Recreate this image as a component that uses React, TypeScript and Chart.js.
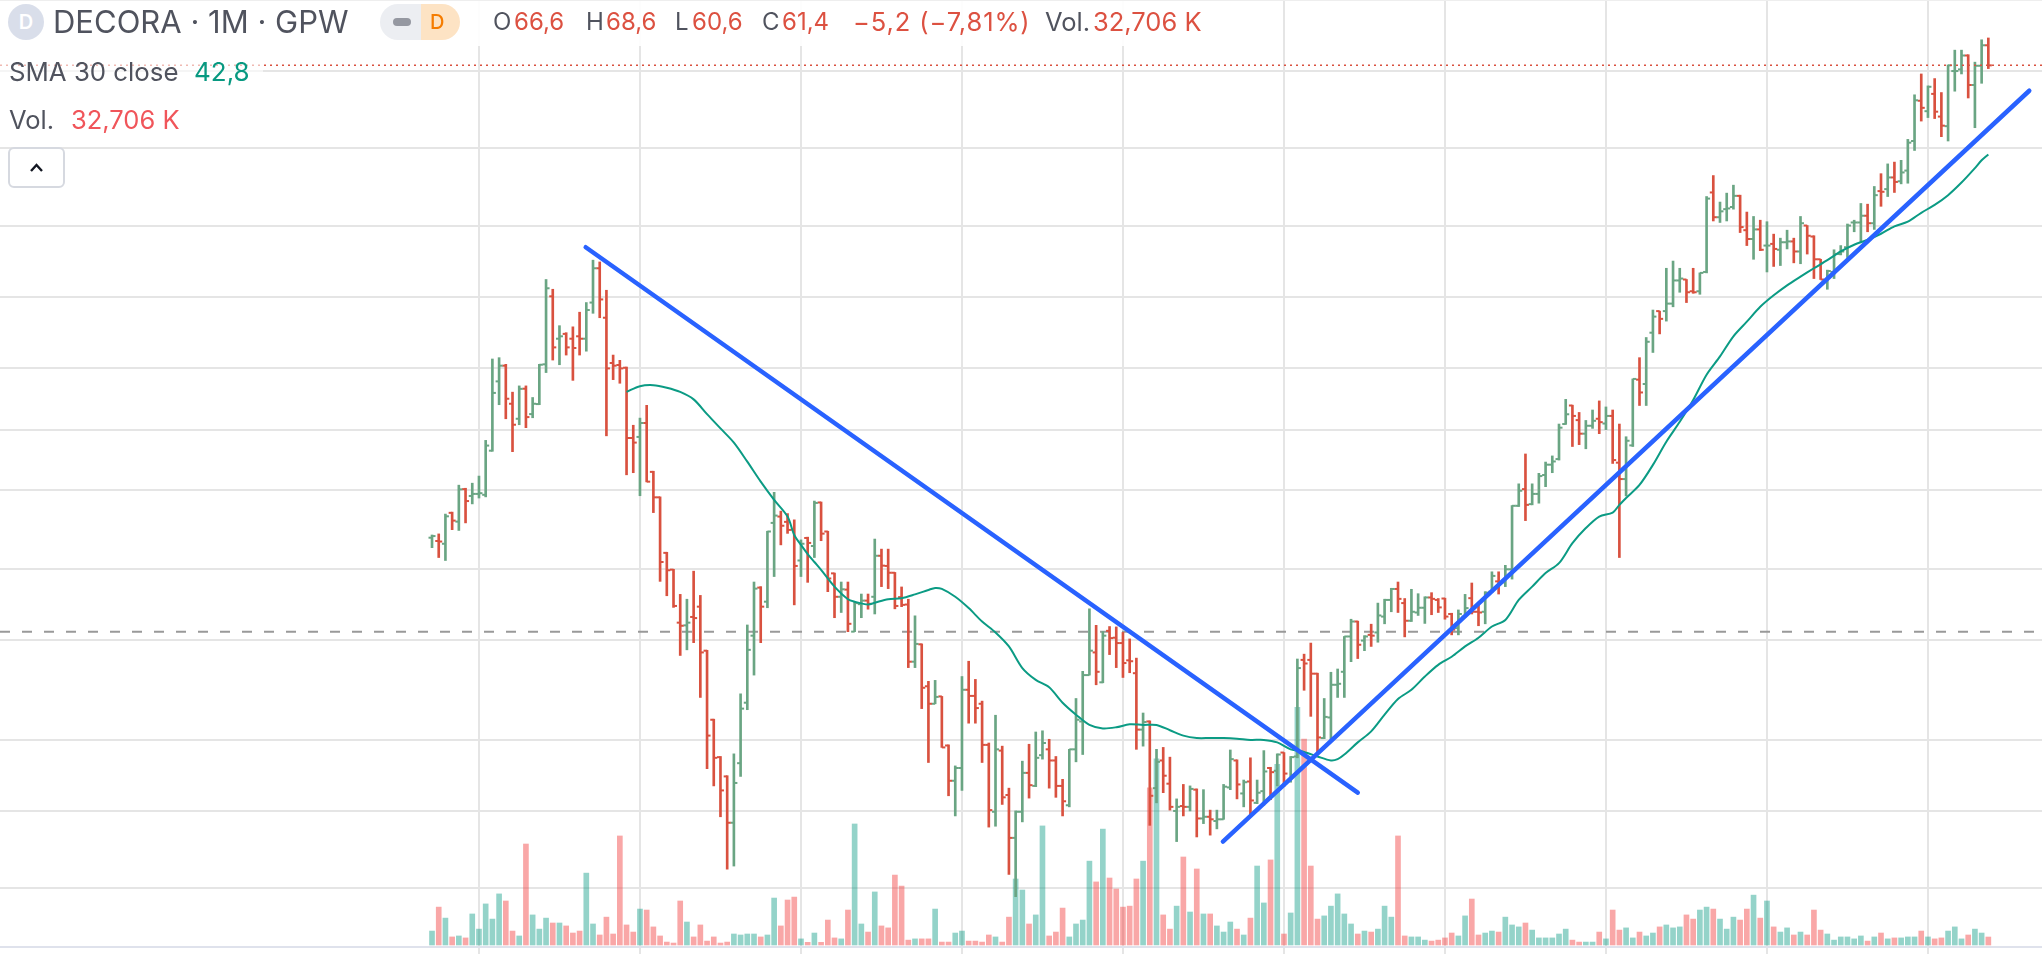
import { useEffect, useRef } from "react";
import { Chart, registerables } from "chart.js";

Chart.register(...registerables);

const opens = [
  9.07,8.95,8.85,10.03,9.68,11.04,10.74,10.83,10.79,12.9,
  17.08,18.2,15.6,14.68,16.58,14.96,15.58,18.3,24.1,20.3,
  20.7,20.3,20.5,20.3,23.5,27,22.1,18.4,18.25,18.05,
  13.58,13.64,14.43,11.84,10.68,8.53,7.97,6.43,6.36,6.58,
  6.86,5.74,4.34,3.73,3.45,2.86,3.64,4.65,6.1,7.41,
  7,9.63,9.88,9.67,9.37,8.27,9.06,8.77,10.46,9.3,
  7.85,7.14,7.35,6.2,6.93,7.03,7.14,8.43,8.09,7.87,
  7.13,6.92,5.49,5.89,4.97,4.63,4.77,3.91,3.39,3.57,
  4.9,4.78,4.63,3.92,2.99,3.83,3.2,2.69,2.99,3.5,
  3.32,3.76,3.85,3.68,3.32,3.07,3.85,4.31,5.2,5.7,
  5.05,6.22,6.05,5.92,5.52,5.24,4.17,4.31,3.29,3.68,
  3.35,3,3.06,3.05,3.27,2.91,2.93,2.88,2.9,3.3,
  3.68,3.22,3.38,3.1,3.25,3.57,3.53,3.8,3.39,3.74,
  5.53,5.53,5.23,4.03,4.38,5,5.27,6.08,6.46,5.98,
  6.12,6.18,6.59,7.05,7.37,6.96,6.48,6.7,6.83,7.12,
  7.05,7.09,6.66,6.29,6.59,7.1,6.72,6.72,7.29,7.6,
  7.57,7.98,10.32,11.04,10.39,10.83,11.69,12.19,12.47,14.37,
  15.49,14.6,13.82,14.27,14.68,14.4,14.85,12.29,11.5,13.18,
  17.2,16.9,20.8,22.7,22.7,23.4,25.7,25.8,24.6,24.6,
  26.6,36.7,33.2,34.3,34.6,36.2,31.5,30.4,31.6,29.6,
  29.8,29.1,30,30.1,28.9,32.1,30.7,28,25.7,26.6,
  28.6,29.4,32.5,32.5,33.4,32.4,36.9,37.2,39,38.4,
  40.1,45.2,53.2,51,54.7,49.9,48,60,60.4,63.9,
  56.7,61.3,66.6,
];

const highs = [
  9.17,9.21,9.98,10.06,11.22,11.08,11.31,11.64,13.45,18.7,
  18.8,18.3,16.35,16.77,16.77,16,18.3,25.8,24.8,21.4,
  20.8,21.3,22.6,23.5,27.9,27.7,24.7,19,18.6,18.1,
  14.3,14.72,15.5,11.87,10.7,8.55,7.98,7.21,7.07,7.92,
  7.18,5.75,4.35,3.74,3.46,3.78,4.82,6.37,7.58,7.44,
  9.31,10.9,10.1,10,9.75,8.99,9.09,10.52,10.48,9.31,
  7.86,7.58,7.58,7,7.22,7.22,9.02,8.66,8.66,7.88,
  7.43,7.07,6.61,5.9,5.07,5.09,4.77,3.92,3.6,5.17,
  5.5,5.11,4.68,3.95,4.42,3.9,3.29,3,3.67,3.93,
  4.13,4.15,4.01,3.74,3.41,3.85,4.73,5.28,6.8,6.36,
  6.2,6.33,6.32,6.18,6.02,5.57,4.46,4.32,3.85,3.88,
  3.73,3.15,3.34,3.32,3.28,3.27,3.01,3.01,3.34,3.84,
  3.69,3.4,3.72,3.4,3.83,3.58,3.78,3.8,3.74,5.55,
  5.66,5.92,5.24,4.73,5.26,5.33,6.08,6.52,6.47,6.1,
  6.39,6.96,7.07,7.39,7.58,7.09,7.36,7.23,7.14,7.26,
  7.09,7.1,6.68,6.77,7.21,7.55,6.96,7.29,7.9,7.9,
  8.11,10.33,11.28,12.73,11.28,11.77,12.32,12.63,14.37,15.88,
  15.51,15.06,14.58,15.21,15.78,15.4,15.21,14.37,13.65,17.25,
  18.8,20.4,22.8,22.7,27,27.8,27,25.8,27,26.5,
  36.1,39.3,35.3,36.6,37.8,36.3,33.9,33.3,32.8,32.6,
  31,30.5,31.5,30.5,33.3,32.1,30.8,28,26.8,29.1,
  29.6,32.3,32.8,35.1,35,37.6,39.6,41.2,41.5,41.8,
  45.5,54.5,59.3,56.5,58.2,55,61.5,65.3,65.3,64.1,
  62.2,68.1,68.6,
];

const lows = [
  8.71,8.37,8.27,9.37,9.34,9.63,10.4,10.65,10.7,12.87,
  15.54,14.68,12.85,14.33,14.16,14.74,15.54,17.7,18.62,18.27,
  19,17.15,19,19.3,22.5,22.1,13.7,17.2,16.95,11.7,
  11.8,10.75,11.37,10.04,7.6,7.17,6.84,5.63,5.76,5.93,
  4.75,3.56,3.32,2.93,2.37,2.4,3.45,4.52,5.2,5.93,
  6.83,7.75,8.81,9.23,6.91,7.75,7.57,8.37,8.96,7.29,
  6.56,6.7,6.2,6.2,6.56,6.79,6.66,7.44,7.38,6.8,
  6.86,5.36,5.36,4.54,3.65,4.63,3.88,3.19,2.94,3.26,
  4.28,4.28,3.65,2.81,2.82,3.08,2.32,2.12,2.87,3.16,
  3.31,3.7,3.29,3.17,2.94,3.05,3.66,3.77,5.2,5,
  5.04,5.65,5.36,5.15,5.25,3.85,3.9,2.83,3.1,3.23,
  3.01,2.65,2.94,3,2.7,2.85,2.72,2.79,2.9,3.27,
  3.15,3.05,2.94,3.09,3.07,3.14,3.32,3.31,3.37,3.72,
  4.89,4.4,3.79,4.02,4,4.75,4.75,5.49,5.56,5.74,
  5.84,5.94,6.4,6.72,6.7,6.07,6.46,6.62,6.41,6.64,
  6.7,6.52,6.12,6.12,6.57,6.66,6.35,6.4,7.26,7.22,
  7.44,7.67,10.29,9.72,10.36,10.43,11.15,11.8,12.42,14.35,
  13.12,13.22,13,14.12,13.82,14.05,12.25,8.37,10.74,13.12,
  15.49,15.49,19.2,20.7,21.8,23.1,24.5,23.5,24.4,24.3,
  26.5,32.7,32.5,32.7,34.3,31.2,29.6,28,29,26.6,
  27.2,27.3,29.2,27.6,27.5,28.6,25.9,25.8,24.8,25.9,
  28.5,28.2,31.3,30,31.3,31.6,34.7,36.1,36.7,38,
  38.1,43.5,49,49.7,49.5,46,45.2,55.3,59.3,53.8,
  47.7,57.1,60.6,
];

const closes = [
  9.13,8.93,9.89,9.72,11.03,10.52,10.83,10.86,13.17,16.3,
  18.2,15.92,14.33,16.57,14.78,15.6,18.27,24.9,19.6,20.5,
  19.6,19.55,20.3,22.8,27,23.8,18,18.2,18,13.58,
  13.33,14.43,11.38,10.68,8.22,7.95,6.88,6.35,6.43,6.55,
  5.7,4.07,3.72,3.26,2.86,3.36,4.54,5.76,7.38,6.86,
  9.3,9.92,9.52,9.36,8.09,8.85,8.88,10.44,9.22,7.69,
  7.14,7.36,6.4,6.96,7.03,6.94,8.43,8.1,7.87,6.88,
  6.91,5.49,5.9,4.94,4.63,4.76,3.88,3.39,3.57,4.9,
  4.78,4.55,3.92,3.01,3.85,3.17,2.69,2.99,3.5,3.33,
  3.72,3.95,3.68,3.32,3.12,3.85,4.34,5.2,5.74,5.27,
  6.1,6.04,5.92,5.46,5.5,4.17,4.3,3.19,3.66,3.46,
  3.05,3.05,3.05,3.28,2.91,2.93,2.9,2.9,3.31,3.7,
  3.34,3.37,3.13,3.23,3.52,3.51,3.77,3.49,3.73,5.35,
  5.45,5.23,4.04,4.39,5,5.02,6.08,6.46,5.88,6.08,
  6.1,6.62,7.05,7.37,7.08,6.48,6.72,6.83,7.12,7.08,
  6.84,6.59,6.25,6.66,6.82,6.72,6.7,7.26,7.77,7.55,
  7.98,10.32,10.97,10.36,10.83,11.64,12.19,12.35,14.16,14.95,
  14.85,13.82,14.27,14.56,14.48,14.85,12.42,11.5,13.43,17.25,
  16.33,20.05,22.2,22,23.4,25.7,25.9,24.5,24.5,26.5,
  35.8,33.2,34,34.4,36.2,31.9,30.4,31.6,29.1,29.6,
  29.2,30,30.1,28.9,32.4,30.8,28,25.8,26.7,28.6,
  28.9,32.1,32.5,33.4,32.4,36.3,36.8,39,38.3,39.8,
  44.9,53.3,51.7,56.3,50.9,48.1,61.4,60,63.9,56.7,
  61.3,66.6,61.4,
];

// volume in thousands
const volumes = [
  57,155,110,33,37,29,127,65,168,106,
  209,180,57,37,413,123,65,110,90,90,
  78,49,57,294,86,41,114,45,446,82,
  53,147,143,74,37,12,8,180,94,33,
  82,16,33,8,12,45,41,45,45,33,
  41,192,78,184,196,25,11,49,11,102,
  29,25,143,495,86,53,217,78,70,286,
  241,20,25,25,25,147,12,12,49,57,
  16,16,12,41,33,12,114,270,225,86,
  123,487,37,53,151,33,86,102,343,258,
  474,274,229,155,159,270,343,643,761,123,
  65,159,360,135,311,127,127,78,53,94,
  65,41,110,323,172,348,739,45,131,972,
  842,323,106,119,159,209,127,86,45,57,
  53,65,159,114,446,37,33,33,20,16,
  20,29,49,37,119,188,41,49,57,53,
  114,82,74,90,61,29,29,29,45,65,
  20,12,12,12,53,25,143,61,70,29,
  53,37,49,74,82,70,74,123,106,143,
  155,147,106,65,114,102,147,204,110,180,
  74,53,70,41,53,41,143,61,45,20,
  33,33,25,37,16,33,49,25,29,29,
  33,33,57,33,25,29,57,74,25,41,
  65,49,32.7,
];

const smaIndex = [
  29,31,33,35,37,39,41,43,45,47,49,51,53,54,55,56,57,58,60,62,63,65,66,68,70,72,74,75,76,78,
  80,82,84,86,88,90,92,94,96,98,100,102,104,106,108,110,112,114,116,118,120,122,124,126,128,
  130,132,134,135,136,138,140,142,144,146,148,150,152,154,156,158,160,162,164,166,168,170,172,
  174,176,177,178,180,182,184,186,188,190,192,194,196,198,200,202,204,206,208,210,212,214,216,
  218,220,222,224,226,228,230,231,232,
];

const smaValues = [
  16.37,16.75,16.82,16.65,16.37,15.88,14.96,14.12,13.33,12.34,11.38,10.57,9.88,9.17,8.81,8.49,8.22,7.96,7.44,7.07,7,6.92,6.97,7.07,7.1,7.21,7.34,7.4,7.37,7.14,
  6.82,6.46,6.18,5.84,5.35,5.1,4.95,4.65,4.43,4.25,4.19,4.21,4.26,4.25,4.25,4.16,4.07,4.03,4.03,4.03,4.02,4,4,3.96,3.85,
  3.81,3.74,3.68,3.7,3.77,3.96,4.14,4.43,4.72,4.9,5.17,5.42,5.6,5.84,6.05,6.33,6.5,7.05,7.44,7.86,8.18,8.87,9.43,
  9.88,10.04,10.36,10.65,11.23,12.18,13.38,14.5,15.84,17.55,18.9,20.5,21.75,23.1,24.2,25.2,26.1,27,27.9,28.9,29.7,30.3,31.05,
  32,32.6,33.8,34.9,36.3,38.2,40.5,41.8,42.8,
];

const priceTicks = [60, 44, 32, 24, 18, 14, 11, 8, 6, 4, 3, 2.2];
const timeTicks = [7, 31, 55, 79, 103, 127, 151, 175, 199, 223];

const downTrend = [
  { x: 22.91, y: 29.4 },
  { x: 138, y: 3.23 },
];
const upTrend = [
  { x: 117.9, y: 2.65 },
  { x: 238.1, y: 55.4 },
];

const prevClosePrice = 6.2;
const lastPrice = 61.4;

const X_MIN = -64.4;
const X_MAX = 240;

const UP = "#6aa583";
const DOWN = "#d9513f";
const UP_VOL = "rgba(8, 153, 129, 0.43)";
const DOWN_VOL = "rgba(242, 64, 64, 0.46)";

const isUp = (i: number) => closes[i] >= opens[i];

export default function App() {
  const chartRef = useRef<HTMLCanvasElement>(null);

  useEffect(() => {
    if (!chartRef.current) return;
    const gridColor = "#e5e5e5";

    const chart = new Chart(chartRef.current, {
      type: "bar",
      data: {
        datasets: [
          {
            type: "line",
            data: upTrend,
            yAxisID: "y",
            borderColor: "#2962ff",
            borderWidth: 4.5,
            borderCapStyle: "round",
            pointRadius: 0,
            order: 1,
          },
          {
            type: "line",
            data: downTrend,
            yAxisID: "y",
            borderColor: "#2962ff",
            borderWidth: 4.5,
            borderCapStyle: "round",
            pointRadius: 0,
            order: 1,
          },
          {
            type: "line",
            data: smaIndex.map((x, i) => ({ x, y: smaValues[i] })),
            yAxisID: "y",
            borderColor: "#0b9b84",
            borderWidth: 2,
            tension: 0.3,
            pointRadius: 0,
            order: 2,
          },
          {
            type: "line",
            data: [
              { x: X_MIN, y: lastPrice },
              { x: X_MAX, y: lastPrice },
            ],
            yAxisID: "y",
            borderColor: DOWN,
            borderWidth: 1.5,
            borderDash: [2, 4],
            pointRadius: 0,
            order: 3,
          },
          {
            type: "line",
            data: [
              { x: X_MIN, y: prevClosePrice },
              { x: X_MAX, y: prevClosePrice },
            ],
            yAxisID: "y",
            borderColor: "#999999",
            borderWidth: 2,
            borderDash: [10, 12],
            pointRadius: 0,
            order: 7,
          },
          {
            type: "line",
            data: closes.map((y, x) => ({ x, y })),
            yAxisID: "y",
            showLine: false,
            pointStyle: "dash",
            pointRadius: 3.5,
            pointBorderWidth: 2,
            pointBorderColor: closes.map((_, i) => (isUp(i) ? UP : DOWN)),
            order: 4,
          },
          {
            type: "line",
            data: opens.map((y, x) => ({ x, y })),
            yAxisID: "y",
            showLine: false,
            pointStyle: "dash",
            pointRotation: 180,
            pointRadius: 3.5,
            pointBorderWidth: 2,
            pointBorderColor: opens.map((_, i) => (isUp(i) ? UP : DOWN)),
            order: 4,
          },
          {
            type: "bar",
            data: highs.map((h, x) => ({ x, y: [lows[x], h] })),
            yAxisID: "y",
            grouped: false,
            barThickness: 2,
            backgroundColor: highs.map((_, i) => (isUp(i) ? UP : DOWN)),
            order: 5,
          },
          {
            type: "bar",
            data: volumes.map((y, x) => ({ x, y })),
            yAxisID: "yVol",
            grouped: false,
            barThickness: 5,
            backgroundColor: volumes.map((_, i) => (isUp(i) ? UP_VOL : DOWN_VOL)),
            order: 6,
          },
          {
            type: "line",
            data: [
              { x: X_MIN, y: -8 },
              { x: X_MAX, y: -8 },
            ],
            yAxisID: "yVol",
            borderColor: "#dfe2ec",
            borderWidth: 2,
            pointRadius: 0,
            order: 8,
          },
        ],
      },
      options: {
        responsive: false,
        animation: false,
        events: [],
        layout: { padding: 0, autoPadding: false },
        plugins: {
          legend: { display: false },
          tooltip: { enabled: false },
        },
        scales: {
          x: {
            type: "linear",
            min: X_MIN,
            max: X_MAX,
            offset: false,
            border: { display: false },
            grid: { color: gridColor, lineWidth: 2, drawTicks: false, offset: false },
            ticks: { display: false, autoSkip: false },
            afterBuildTicks: (scale) => {
              scale.ticks = timeTicks.map((value) => ({ value }));
            },
          },
          y: {
            type: "logarithmic",
            min: 1.681,
            max: 80,
            border: { display: false },
            grid: { color: gridColor, lineWidth: 2, drawTicks: false },
            ticks: { display: false, autoSkip: false },
            afterBuildTicks: (scale) => {
              scale.ticks = priceTicks.map((value) => ({ value }));
            },
          },
          yVol: {
            type: "linear",
            display: false,
            min: -36.8,
            max: 3865,
          },
        },
      },
    });

    return () => {
      chart.destroy();
    };
  }, []);

  const font = "Inter, 'Noto Sans', sans-serif";
  const label = "#50535e";
  const red = "#dc5141";
  const text = (left: number, top: number, size: number, color: string, value: string, spacing = 0) => (
    <span
      style={{
        position: "absolute",
        left,
        top,
        fontSize: size,
        lineHeight: "36px",
        letterSpacing: spacing,
        color,
        whiteSpace: "nowrap",
      }}
    >
      {value}
    </span>
  );

  return (
    <div
      style={{
        position: "fixed",
        left: 0,
        top: 0,
        width: 2042,
        height: 954,
        overflow: "hidden",
        background: "#fff",
        fontFamily: font,
      }}
    >
      <canvas ref={chartRef} width={2042} height={954} style={{ display: "block" }} />

      <div style={{ position: "absolute", left: 0, top: 0, width: 1212, height: 46, background: "rgba(255,255,255,0.93)" }} />
      <div style={{ position: "absolute", left: 0, top: 50, width: 263, height: 44, background: "rgba(255,255,255,0.6)" }} />
      <div style={{ position: "absolute", left: 0, top: 0, width: 2042, height: 1, background: "#eeeeee" }} />

      <div
        style={{
          position: "absolute",
          left: 8,
          top: 4,
          width: 36,
          height: 36,
          borderRadius: 18,
          background: "#d9deea",
          color: "#fff",
          fontSize: 20,
          fontWeight: 600,
          lineHeight: "36px",
          textAlign: "center",
        }}
      >
        D
      </div>
      {text(53, 4, 31, label, "DECORA · 1M · GPW")}

      <div style={{ position: "absolute", left: 380, top: 4, width: 41, height: 36, background: "#eceef2", borderRadius: "18px 0 0 18px" }} />
      <div style={{ position: "absolute", left: 393, top: 18, width: 18, height: 8, background: "#9598a1", borderRadius: 4 }} />
      <div
        style={{
          position: "absolute",
          left: 421,
          top: 4,
          width: 39,
          height: 36,
          background: "#fde3c4",
          borderRadius: "0 18px 18px 0",
          color: "#f57c00",
          fontSize: 20,
          fontWeight: 500,
          lineHeight: "36px",
          paddingLeft: 9,
          boxSizing: "border-box",
        }}
      >
        D
      </div>

      {text(493, 4, 24, label, "O")}
      {text(514, 4, 24, red, "66,6")}
      {text(586, 4, 24, label, "H")}
      {text(606, 4, 24, red, "68,6")}
      {text(675, 4, 24, label, "L")}
      {text(692, 4, 24, red, "60,6")}
      {text(762, 4, 24, label, "C")}
      {text(782, 4, 24, red, "61,4")}
      {text(853, 4, 25.5, red, "−5,2 (−7,81%)", 0.9)}
      {text(1045, 4, 25.5, label, "Vol.")}
      {text(1093, 4, 25.5, red, "32,706 K")}

      {text(9, 54, 25.8, label, "SMA 30 close")}
      {text(194, 54, 26, "#089981", "42,8")}
      {text(9, 102, 25.5, label, "Vol.")}
      {text(71, 102, 25.5, "#f0555a", "32,706 K")}

      <div
        style={{
          position: "absolute",
          left: 8,
          top: 147,
          width: 57,
          height: 41,
          boxSizing: "border-box",
          background: "#fff",
          border: "2px solid #d6d9e0",
          borderRadius: 6,
        }}
      >
        <svg width="53" height="37" style={{ display: "block" }}>
          <polyline points="21,22 26.5,16 32,22" fill="none" stroke="#131722" strokeWidth="2.4" />
        </svg>
      </div>
    </div>
  );
}
